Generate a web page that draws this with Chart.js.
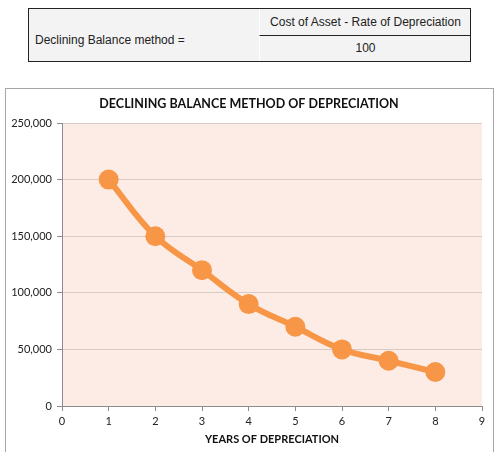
<!DOCTYPE html>
<html>
<head>
<meta charset="utf-8">
<script src="https://cdn.jsdelivr.net/npm/chart.js@4"></script>
<style>
  body { margin: 0; width: 503px; height: 452px; background: #fff; position: relative; overflow: hidden; }
  #formula {
    position: absolute; left: 28px; top: 8px; width: 441px; height: 52px;
    border: 1px solid #222; background: #f3f3f3;
    font-family: "Liberation Sans", Arial, sans-serif; font-size: 12px; color: #222;
  }
  #formula .lhs { position: absolute; left: 6px; top: 24px; }
  #formula .rhs { position: absolute; left: 230px; width: 211px; text-align: center; border-left: 1px solid #fff; }
  #formula .num { top: 0; height: 26px; line-height: 26px; border-bottom: 1px solid #222; }
  #formula .den { top: 27px; height: 25px; line-height: 25px; }
  #box {
    position: absolute; left: 5px; top: 88px; width: 487px; height: 380px;
    border: 1px solid #a6a6a6; background: #fff;
  }
  #wrap { position: absolute; left: 0; top: 0; width: 486px; height: 363px; }
</style>
</head>
<body>
<div id="formula">
  <div class="lhs">Declining Balance method =</div>
  <div class="rhs num">Cost of Asset - Rate of Depreciation</div>
  <div class="rhs den">100</div>
</div>
<div id="box"><div id="wrap"><canvas id="chart"></canvas></div></div>
<script>
// chart data
var years = [1, 2, 3, 4, 5, 6, 7, 8];
var balance = [200000, 150000, 120000, 90000, 70000, 50000, 40000, 30000];
var chartTitle = "DECLINING BALANCE METHOD OF DEPRECIATION";
var xTitle = "YEARS OF DEPRECIATION";

var orange = "#f79646";

// paints the plot area background
var plotBg = {
  id: "plotBg",
  beforeDraw: function(chart) {
    var a = chart.chartArea, ctx = chart.ctx;
    ctx.save();
    ctx.fillStyle = "#fdece5";
    ctx.fillRect(a.left, a.top, a.right - a.left, a.bottom - a.top);
    ctx.restore();
  }
};

// title centred on the whole canvas (the built-in one centres on the padded box)
var centreTitle = {
  id: "centreTitle",
  afterDraw: function(chart) {
    var ctx = chart.ctx;
    ctx.save();
    ctx.fillStyle = "#111";
    ctx.font = "bold 12.5px Lato";
    ctx.textAlign = "center";
    ctx.textBaseline = "middle";
    ctx.fillText(chartTitle, chart.width / 2, 14.5);
    ctx.restore();
  }
};

function generateChart() {
  var points = [];
  for (var i = 0; i < years.length; i++) {
    points.push({ x: years[i], y: balance[i] });
  }
  var ctx = document.getElementById("chart").getContext("2d");
  new Chart(ctx, {
    type: "line",
    data: {
      datasets: [{
        data: points,
        borderColor: orange,
        backgroundColor: orange,
        borderWidth: 6,
        pointRadius: 10,
        pointHoverRadius: 10,
        pointBorderWidth: 0,
        tension: 0.4
      }]
    },
    options: {
      responsive: true,
      maintainAspectRatio: false,
      animation: false,
      layout: { padding: { left: 0, right: 10, top: 34, bottom: 0 } },
      plugins: {
        legend: { display: false },
        tooltip: { enabled: false },
        title: { display: false }
      },
      scales: {
        x: {
          type: "linear",
          min: 0, max: 9,
          afterFit: function(s) { s.height = 46; },
          ticks: { stepSize: 1, color: "#222", padding: 4, font: { family: "Lato", size: 11 } },
          grid: { drawOnChartArea: false, drawTicks: true, tickLength: 5, color: "#8c8c8c" },
          border: { color: "#8c8c8c" },
          title: {
            display: true, text: xTitle, color: "#111",
            font: { family: "Lato", size: 11, weight: "bold" },
            padding: { top: 0, bottom: 6 }
          }
        },
        y: {
          min: 0, max: 250000,
          afterFit: function(s) { s.width = 56; },
          ticks: {
            stepSize: 50000, color: "#222", padding: 5,
            font: { family: "Lato", size: 11 },
            callback: function(v) { return v.toLocaleString("en-US"); }
          },
          grid: { color: "#d6ccc7", tickLength: 5, tickColor: "#8c8c8c" },
          border: { color: "#8c8c8c" }
        }
      }
    },
    plugins: [plotBg, centreTitle]
  });
}
generateChart();
</script>
</body>
</html>
